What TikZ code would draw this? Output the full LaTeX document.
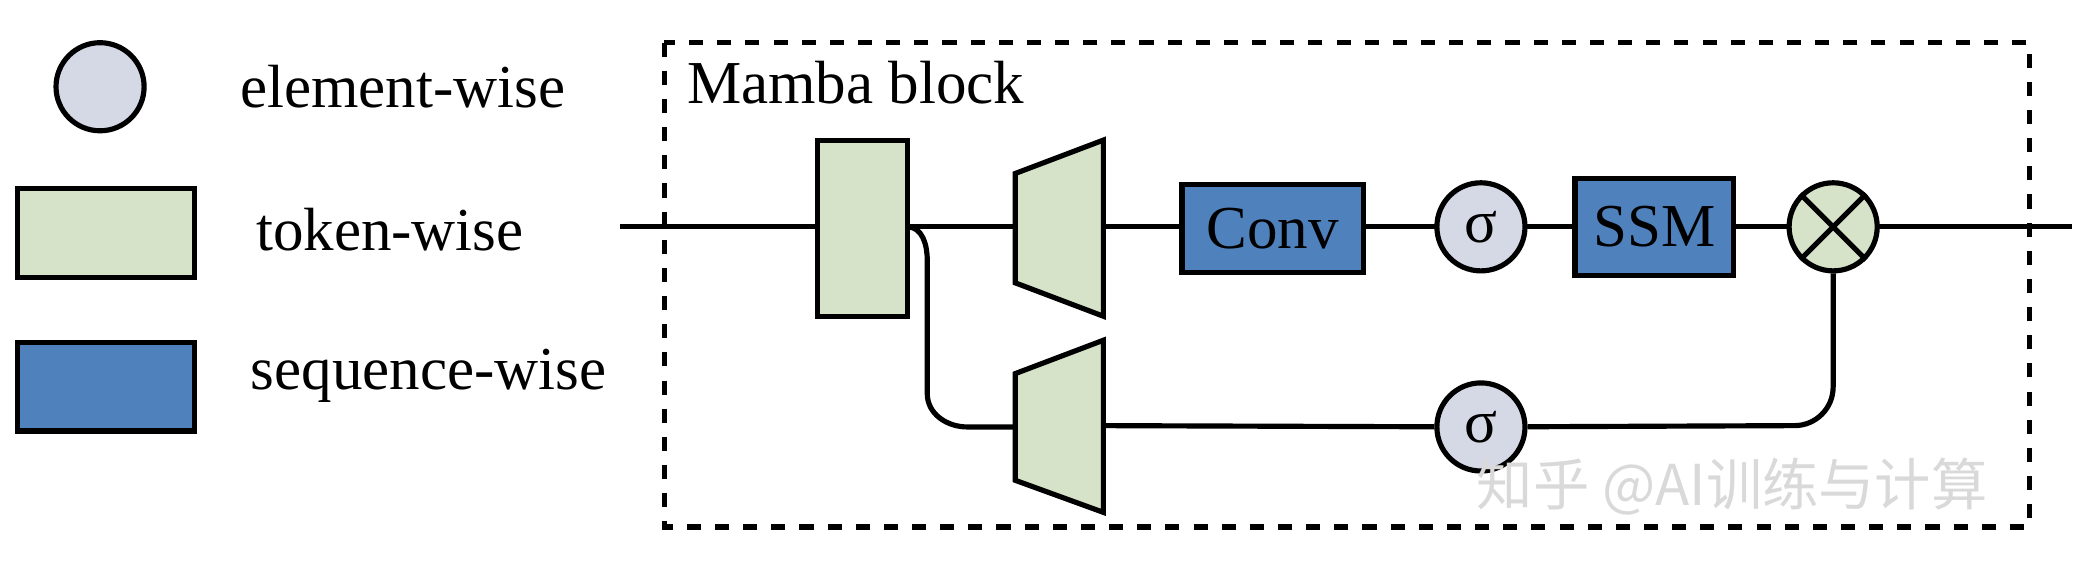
\documentclass[tikz,border=0pt]{standalone}
\usepackage{fontspec}
\setmainfont{Liberation Serif}
\newfontfamily\cjk{Noto Sans CJK SC}
\definecolor{elem}{HTML}{D5D9E6}
\definecolor{tok}{HTML}{D6E3C9}
\definecolor{seq}{HTML}{4F81BD}
\begin{document}
\begin{tikzpicture}[x=0.01cm,y=-0.01cm,line width=1.1pt,
  txt/.style={font=\fontsize{13}{15}\selectfont,anchor=west,inner sep=0},
  circ/.style={circle,draw,fill=elem,minimum size=0.66cm,inner sep=0,font=\fontsize{13}{15}\selectfont},
  tokr/.style={draw,fill=tok},
  seqr/.style={draw,fill=seq,font=\fontsize{13}{15}\selectfont,inner sep=0}]
\useasboundingbox (0,0) rectangle (1568,426);
% legend
\node[circ] (lc) at (75,65) {};
\node[txt] (lt1) at (178,65) {element-wise};
\draw[tokr] (13,141) rectangle (146,208);
\node[txt] (lt2) at (190,172) {token-wise};
\draw[seqr] (13,257) rectangle (146,323);
\node[txt] (lt3) at (186,282) {sequence-wise};
% box
\draw[dashed] (498,32) rectangle (1521,395);
\node[txt] (title) at (513,62) {Mamba block};
% main line
\coordinate (in) at (465,170);
\coordinate (out) at (1553,170);
\draw (in) -- (out);
\draw[tokr] (613,105) rectangle (680,237);
\draw[tokr] (761,130) -- (827,105) -- (827,237) -- (761,212) -- cycle;
\node[seqr,minimum width=1.36cm,minimum height=0.66cm] (conv) at (954,171) {Conv};
\node[circ] (s1) at (1110,170) {σ};
\node[seqr,minimum width=1.19cm,minimum height=0.73cm] (ssm) at (1240,170) {SSM};
\node[circ,fill=tok] (mul) at (1374,170) {};
\draw (mul.north west) -- (mul.south east) (mul.north east) -- (mul.south west);
% lower branch
\draw[tokr] (761,280) -- (827,255) -- (827,384) -- (761,360) -- cycle;
\node[circ] (s2) at (1110,320) {σ};
\draw (680,170) to[out=0,in=90] (695,195) -- (695,295) to[out=-90,in=180] (725,320) -- (761,320);
\draw (827,319) -- (s2);
\draw (s2) -- (1345,319) to[out=0,in=-90] (1374,290) -- (mul.south);
\node[font=\cjk\fontsize{12}{14}\selectfont,text=gray!30,anchor=west,inner sep=0] (wm) at (1105,365) {知乎 @AI训练与计算};
\end{tikzpicture}
\end{document}
